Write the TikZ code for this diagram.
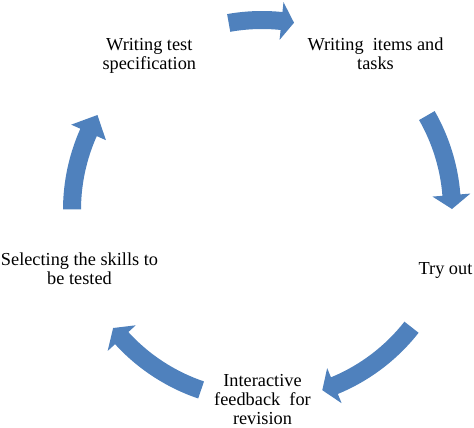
\documentclass[tikz,border=0pt]{standalone}
\usepackage{fontspec}
\setmainfont{Liberation Serif}
\definecolor{arrowblue}{RGB}{79,129,189}
\newcommand{\blockarc}[3]{%
  \fill[cyc, shift={(262,218)}] (#1:199) arc[start angle=#1, end angle=#2, radius=199]
    -- (#2:209) -- (#3:190) -- (#2:171) -- (#2:181)
    arc[start angle=#2, end angle=#1, radius=181] -- cycle;}
\begin{document}
\begin{tikzpicture}[x=1pt,y=1pt,
  lbl/.style={font=\fontsize{18.3}{19}\selectfont, align=center, inner sep=0pt, anchor=base},
  cyc/.style={fill=arrowblue, draw=none}]
\useasboundingbox (0,0) rectangle (474,428);
\node[lbl] (spec) at (149.3,358.7) {Writing test\\specification};
\node[lbl] (items) at (375.5,358.7) {Writing\ \ items and\\tasks};
\node[lbl] (try) at (445.5,153) {Try out};
\node[lbl] (feed) at (262.5,3.5) {Interactive\\feedback\ \ for\\revision};
\node[lbl] (skills) at (79.5,143.7) {Selecting the skills to\\be tested};
\blockarc{100.1}{84.1}{80.3}
\blockarc{29.8}{4.5}{0.3}
\blockarc{-38.1}{-67.6}{-71.5}
\blockarc{-108.7}{-137.6}{-141.6}
\blockarc{179.8}{155.9}{150}
\end{tikzpicture}
\end{document}
